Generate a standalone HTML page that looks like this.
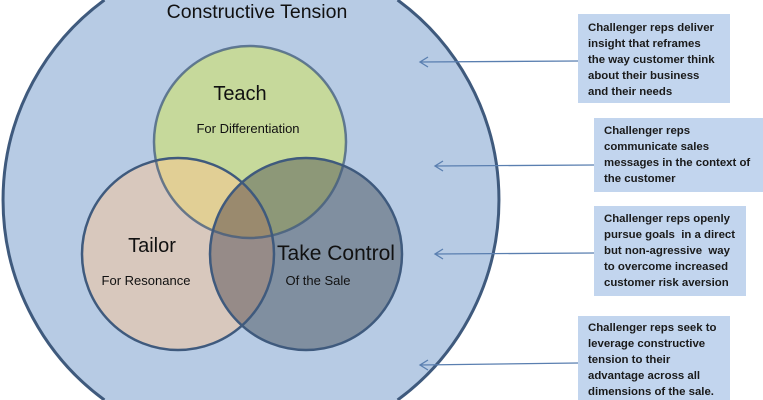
<!DOCTYPE html>
<html style="overflow:hidden;width:763px;height:400px"><head><meta charset="utf-8"><style>
body{margin:0;width:763px;height:400px;overflow:hidden;background:#fff;font-family:"Liberation Sans",sans-serif;position:relative}
.b{position:absolute;background:#c2d5ee;font-weight:bold;font-size:11.4px;line-height:16px;color:#1a1a1a;box-sizing:border-box;overflow:hidden}
</style></head><body>
<svg width="763" height="400" style="position:absolute;left:0;top:0;overflow:hidden">
<defs>
<clipPath id="cT"><circle cx="250" cy="142" r="96"/></clipPath>
<clipPath id="cL"><circle cx="178" cy="254" r="96"/></clipPath>
</defs>
<path d="M104.4,0 A248,248 0 0,0 104.4,400 L397.6,400 A248,248 0 0,0 397.6,0 Z" fill="#b7cbe4"/>
<path d="M104.4,0 A248,248 0 0,0 104.4,400 M397.6,400 A248,248 0 0,0 397.6,0" fill="none" stroke="#3f5a7d" stroke-width="3"/>
<circle cx="250" cy="142" r="96" fill="#c6d99b"/>
<circle cx="178" cy="254" r="96" fill="#d8c8bd"/>
<circle cx="306" cy="254" r="96" fill="#808fa0"/>
<g clip-path="url(#cT)"><circle cx="178" cy="254" r="96" fill="#e1cf95"/><circle cx="306" cy="254" r="96" fill="#8d9878"/></g>
<g clip-path="url(#cL)"><circle cx="306" cy="254" r="96" fill="#968b88"/></g>
<g clip-path="url(#cT)"><g clip-path="url(#cL)"><circle cx="306" cy="254" r="96" fill="#9a8a6e"/></g></g>
<g fill="none" stroke="#3f5a7d" stroke-width="2.5">
<circle cx="250" cy="142" r="96" stroke-opacity=".75"/>
<circle cx="178" cy="254" r="96"/>
<circle cx="306" cy="254" r="96"/>
</g>
<g stroke="#5a7fb0" stroke-width="1.3" fill="none">
<path d="M578 61 L420 62 M428 57 L420 62 L428 67"/>
<path d="M594 165 L435 166 M443 161 L435 166 L443 171"/>
<path d="M594 253 L435 254 M443 249 L435 254 L443 259"/>
<path d="M578 363 L420 365 M428 360 L420 365 L428 370"/>
</g>
<g font-family="Liberation Sans, sans-serif" fill="#111" text-anchor="middle">
<text x="257" y="18" font-size="19.5">Constructive Tension</text>
<text x="240" y="100" font-size="20">Teach</text>
<text x="248" y="133" font-size="13">For Differentiation</text>
<text x="152" y="252" font-size="20">Tailor</text>
<text x="146" y="285" font-size="13">For Resonance</text>
<text x="336" y="260" font-size="21">Take Control</text>
<text x="318" y="285" font-size="13">Of the Sale</text>
</g>
</svg>
<div class="b" style="left:578px;top:14px;width:152px;height:89px;padding:6px 0 0 10px">Challenger reps deliver<br>insight that reframes<br>the way customer think<br>about their business<br>and their needs</div>
<div class="b" style="left:594px;top:118px;width:169px;height:74px;padding:5px 0 0 10px">Challenger reps<br>communicate sales<br>messages in the context of<br>the customer</div>
<div class="b" style="left:594px;top:206px;width:152px;height:90px;padding:5px 0 0 10px">Challenger reps openly<br>pursue goals&nbsp; in a direct<br>but non-agressive&nbsp; way<br>to overcome increased<br>customer risk aversion</div>
<div class="b" style="left:578px;top:316px;width:152px;height:84px;padding:4px 0 0 10px">Challenger reps seek to<br>leverage constructive<br>tension to their<br>advantage across all<br>dimensions of the sale.</div>
</body></html>
